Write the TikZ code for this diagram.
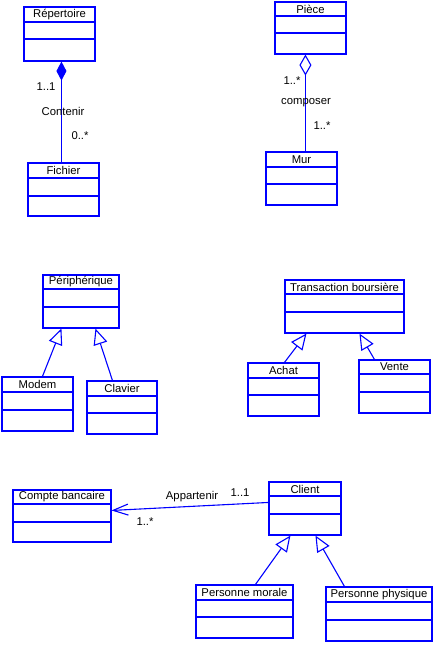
\documentclass[tikz,border=0pt]{standalone}
\usepackage{fontspec}
\setmainfont{Liberation Sans}
\usetikzlibrary{arrows.meta,calc}

\tikzset{
  cls/.style={draw=blue, line width=1.1pt},
  lbl/.style={font=\fontsize{11.3}{13}\selectfont, inner sep=0pt},
  link/.style={draw=blue, line width=1.1pt},
  comp/.style={-{Diamond[length=19pt,width=10pt]}},
  aggr/.style={-{Diamond[open,length=21pt,width=12pt]}},
  gen/.style={-{Triangle[open,length=16pt,width=14pt]}},
  assoc/.style={-{Straight Barb[length=15pt,width=11pt]}}
}

% class box: name, left, top, right, bottom, first rule, second rule, title
\newcommand{\umlclass}[8]{
  \node[cls, minimum width={#4-#2}, minimum height={#5-#3}, inner sep=0pt]
    (#1) at ({(#2+#4)/2},{(#3+#5)/2}) {};
  \node[lbl] (#1-name) at ({(#2+#4)/2},{(#3+#6)/2}) {#8};
  \draw[cls] (#2,#6) -- (#4,#6) (#2,#7) -- (#4,#7);
}

\begin{document}
\begin{tikzpicture}[x=1pt, y=-1pt]
      \useasboundingbox (0,0) rectangle (439,648);
      \umlclass{rep}{24}{7}{95}{61}{22}{39}{Répertoire}
      \umlclass{fic}{28}{163}{99}{216}{178}{196}{Fichier}
      \umlclass{piece}{275}{2}{346}{54}{16}{33}{Pièce}
      \umlclass{mur}{266}{152}{337}{205}{167}{184}{Mur}
      \umlclass{peri}{43}{275}{119}{328}{289}{307}{Périphérique}
      \umlclass{modem}{2}{377}{73}{431}{392}{410}{Modem}
      \umlclass{clavier}{87}{381}{157}{434}{396}{413}{Clavier}
      \umlclass{trans}{285}{280}{404}{333}{294}{312}{Transaction boursière}
      \umlclass{achat}{248}{363}{319}{416}{378}{395}{Achat}
      \umlclass{vente}{359}{360}{430}{413}{374}{392}{Vente}
      \umlclass{compte}{13}{490}{111}{542}{504}{522}{Compte bancaire}
      \umlclass{client}{269}{482}{341}{535}{496}{514}{Client}
      \umlclass{morale}{196}{585}{293}{638}{600}{617}{Personne morale}
      \umlclass{physique}{326}{587}{432}{641}{602}{620}{Personne physique}
      \begin{scope}[link]
        \draw[comp] ($(fic.north west)+(34,0)$) to ($(rep.south west)+(38,0)$);
        \draw[aggr] ($(mur.north west)+(40,0)$) to ($(piece.south west)+(31,0)$);
        \draw[gen] ($(modem.north west)+(41,0)$) to ($(peri.south west)+(19,0)$);
        \draw[gen] ($(clavier.north west)+(26,0)$) to ($(peri.south west)+(53,0)$);
        \draw[gen] ($(achat.north west)+(37,0)$) to ($(trans.south west)+(22,0)$);
        \draw[gen] ($(vente.north west)+(16,0)$) to ($(trans.south west)+(75,0)$);
        \draw[gen] ($(morale.north west)+(60,0)$) to ($(client.south west)+(22,0)$);
        \draw[gen] ($(physique.north west)+(19,0)$) to ($(client.south west)+(47,0)$);
        \draw[assoc] ($(client.north west)+(0,21)$) to ($(compte.north east)+(0,21)$);
      \end{scope}
      \node[lbl] (m1) at (46,87) {1..1};
      \node[lbl] (a1) at (63,111) {Contenir};
      \node[lbl] (m2) at (80,136) {0..*};
      \node[lbl] (m3) at (292,81) {1..*};
      \node[lbl] (a2) at (306,103) {composer};
      \node[lbl] (m4) at (322,126) {1..*};
      \node[lbl] (a3) at (192,497) {Appartenir};
      \node[lbl] (m5) at (240,493) {1..1};
      \node[lbl] (m6) at (145,522) {1..*};
    \end{tikzpicture}
\end{document}
